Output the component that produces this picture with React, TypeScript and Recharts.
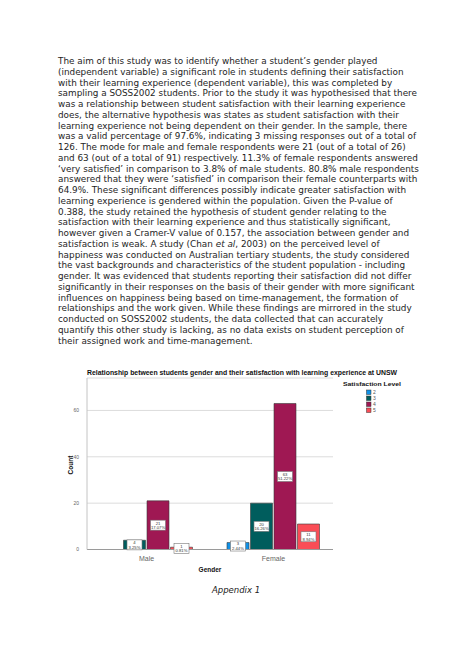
import { Bar, BarChart, CartesianGrid, LabelList, XAxis, YAxis } from "recharts";

const paragraph = [
  "The aim of this study was to identify whether a student’s gender played",
  "(independent variable) a significant role in students defining their satisfaction",
  "with their learning experience (dependent variable), this was completed by",
  "sampling a SOSS2002 students. Prior to the study it was hypothesised that there",
  "was a relationship between student satisfaction with their learning experience",
  "does, the alternative hypothesis was states as student satisfaction with their",
  "learning experience not being dependent on their gender. In the sample, there",
  "was a valid percentage of 97.6%, indicating 3 missing responses out of a total of",
  "126. The mode for male and female respondents were 21 (out of a total of 26)",
  "and 63 (out of a total of 91) respectively. 11.3% of female respondents answered",
  "‘very satisfied’ in comparison to 3.8% of male students. 80.8% male respondents",
  "answered that they were ‘satisfied’ in comparison their female counterparts with",
  "64.9%. These significant differences possibly indicate greater satisfaction with",
  "learning experience is gendered within the population. Given the P-value of",
  "0.388, the study retained the hypothesis of student gender relating to the",
  "satisfaction with their learning experience and thus statistically significant,",
  "however given a Cramer-V value of 0.157, the association between gender and",
  "satisfaction is weak. A study (Chan *et al*, 2003) on the perceived level of",
  "happiness was conducted on Australian tertiary students, the study considered",
  "the vast backgrounds and characteristics of the student population - including",
  "gender. It was evidenced that students reporting their satisfaction did not differ",
  "significantly in their responses on the basis of their gender with more significant",
  "influences on happiness being based on time-management, the formation of",
  "relationships and the work given. While these findings are mirrored in the study",
  "conducted on SOSS2002 students, the data collected that can accurately",
  "quantify this other study is lacking, as no data exists on student perception of",
  "their assigned work and time-management.",
];

const chartTitle =
  "Relationship between students gender and their satisfaction with learning experience at UNSW";
const legendTitle = "Satisfaction Level";
const caption = "Appendix 1";

const genders = ["Male", "Female"];
const levels = ["2", "3", "4", "5"];
const levelColors = ["#1192e8", "#005d5d", "#9f1853", "#fa4d56"];

// counts per level, [Male, Female]
const count2 = [null, 3];
const count3 = [4, 20];
const count4 = [21, 63];
const count5 = [1, 11];

// percent of all respondents, as printed in the boxes
const pct2 = [null, 2.44];
const pct3 = [3.25, 16.26];
const pct4 = [17.07, 51.22];
const pct5 = [0.81, 8.94];

const yTicks = [0, 20, 40, 60];

const counts = [count2, count3, count4, count5];
const pcts = [pct2, pct3, pct4, pct5];

const rows = genders.map((g, i) => {
  const row: Record<string, string | number | null> = { gender: g };
  levels.forEach((l, k) => {
    row[`c${l}`] = counts[k][i];
    row[`p${l}`] = pcts[k][i];
  });
  return row;
});

const chartFont = "'Liberation Sans', Arial, sans-serif";

function boxLabel(level: string) {
  return (props: any) => {
    const { x, y, width, height, value } = props;
    if (value == null || value === "") return null;
    // look the percentage up by count (counts are unique within a level)
    const row = rows.find((r) => r[`c${level}`] === Number(value));
    const pct = row ? (row[`p${level}`] as number | null) : null;
    if (pct == null) return null;
    const cx = Number(x) + Number(width) / 2;
    const cy = Number(y) + Number(height) / 2;
    return (
      <g>
        <rect x={cx - 7.5} y={cy - 5} width={15} height={10} fill="#fff" stroke="#777" strokeWidth={0.6} />
        <text x={cx} y={cy - 0.6} textAnchor="middle" fontSize={4.2} fill="#333" fontFamily={chartFont}>
          {value}
        </text>
        <text x={cx} y={cy + 3.8} textAnchor="middle" fontSize={4.2} fill="#333" fontFamily={chartFont}>
          {pct.toFixed(2)}%
        </text>
      </g>
    );
  };
}

function ParagraphLine({ text }: { text: string }) {
  const parts = text.split("*");
  return (
    <div style={{ whiteSpace: "nowrap", height: 10.75 }}>
      {parts.map((p, i) => (i % 2 ? <i key={i}>{p}</i> : <span key={i}>{p}</span>))}
    </div>
  );
}

export default function App() {
  return (
    <div
      style={{
        position: "absolute",
        left: 0,
        top: 0,
        width: 474,
        height: 670,
        background: "#fff",
        overflow: "hidden",
      }}
    >
      <div
        style={{
          position: "absolute",
          left: 58,
          top: 56,
          fontFamily: "'DejaVu Sans', sans-serif",
          fontSize: 8.85,
          lineHeight: "10.75px",
          color: "#1e1e1e",
        }}
      >
        {paragraph.map((line, i) => (
          <ParagraphLine key={i} text={line} />
        ))}
      </div>

      <div style={{ position: "absolute", left: 0, top: 360 }}>
        <BarChart
          width={474}
          height={230}
          data={rows}
          margin={{ top: 18, right: 141, bottom: 26.5, left: 67 }}
          barSize={22}
          barGap={1.5}
        >
          <CartesianGrid vertical={false} stroke="#dcdcdc" strokeWidth={1} />
          <XAxis
            dataKey="gender"
            height={14}
            padding={{ left: -4, right: -4 }}
            axisLine={{ stroke: "#9a9a9a" }}
            tickLine={false}
            tick={{ fontSize: 7, fill: "#666", fontFamily: chartFont }}
            tickMargin={1}
          />
          <YAxis
            width={20}
            domain={[0, 74]}
            ticks={yTicks}
            axisLine={{ stroke: "#c4c4c4" }}
            tickLine={false}
            tick={{ fontSize: 5, fill: "#666", fontFamily: chartFont }}
            tickMargin={2}
          />
          {levels.map((l, k) => (
            <Bar
              key={l}
              dataKey={`c${l}`}
              fill={levelColors[k]}
              stroke="#3a3a3a"
              strokeWidth={0.6}
              isAnimationActive={false}
            >
              <LabelList dataKey={`c${l}`} content={boxLabel(l)} />
            </Bar>
          ))}
        </BarChart>
      </div>

      <svg
        width={474}
        height={670}
        style={{ position: "absolute", left: 0, top: 0, pointerEvents: "none" }}
        fontFamily={chartFont}
      >
        <text x={87} y={375} fontSize={6.3} fontWeight="bold" fill="#111" textLength={310} lengthAdjust="spacingAndGlyphs">
          {chartTitle}
        </text>
        <text x={343} y={386} fontSize={6} fontWeight="bold" fill="#111" textLength={58} lengthAdjust="spacingAndGlyphs">
          {legendTitle}
        </text>
        {levels.map((l, k) => (
          <g key={l}>
            <rect x={366.5} y={390 + k * 6} width={4.5} height={4.5} fill={levelColors[k]} stroke="#333" strokeWidth={0.5} />
            <text x={373} y={394.3 + k * 6} fontSize={5} fill="#555">
              {l}
            </text>
          </g>
        ))}
        <text
          x={0}
          y={0}
          fontSize={6.5}
          fontWeight="bold"
          fill="#111"
          textAnchor="middle"
          transform="translate(72.5 465) rotate(-90)"
        >
          Count
        </text>
        <text x={210} y={572} fontSize={6.5} fontWeight="bold" fill="#111" textAnchor="middle">
          Gender
        </text>
      </svg>

      <div
        style={{
          position: "absolute",
          left: 0,
          width: 474,
          top: 585,
          textAlign: "center",
          fontFamily: "'DejaVu Sans', sans-serif",
          fontStyle: "italic",
          fontSize: 8.5,
          color: "#222",
        }}
      >
        <span style={{ position: "relative", left: -1 }}>{caption}</span>
      </div>
    </div>
  );
}
